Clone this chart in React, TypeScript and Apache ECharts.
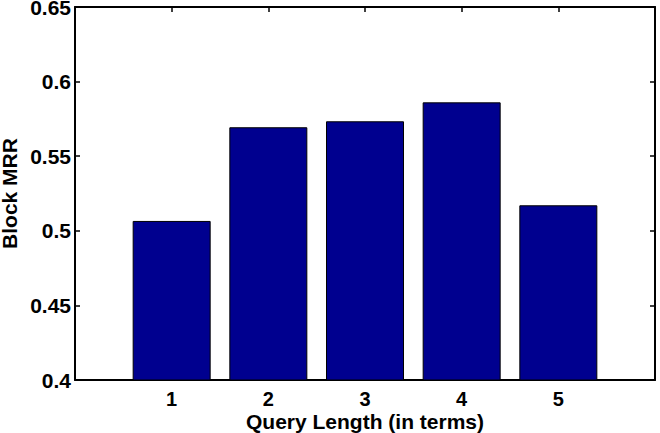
import { useEffect, useRef } from 'react';
import * as echarts from 'echarts';

const queryLengths = [1, 2, 3, 4, 5];
const blockMrr = [0.5066, 0.5694, 0.5734, 0.5861, 0.5171];
const yTicks = { min: 0.4, max: 0.65, interval: 0.05 };
const xRange = { min: 0, max: 6, interval: 1 };

const FONT = '"Liberation Sans", Arial, Helvetica, sans-serif';

function App() {
  const chartRef = useRef<HTMLDivElement>(null);

  useEffect(() => {
    document.body.style.margin = '0';
    if (!chartRef.current) return;
    const chart = echarts.init(chartRef.current, null, { renderer: 'svg' });

    const axisLine = { show: true, onZero: false, lineStyle: { color: '#000', width: 2 } };
    const axisTick = { show: true, inside: true, length: 5, lineStyle: { color: '#000', width: 1.5 } };

    chart.setOption({
      animation: false,
      backgroundColor: '#fff',
      grid: { left: 75, right: 5, top: 7, bottom: 53, containLabel: false, outerBoundsMode: 'none' },
      xAxis: [
        {
          type: 'value',
          min: xRange.min,
          max: xRange.max,
          interval: xRange.interval,
          axisLine,
          axisTick,
          splitLine: { show: false },
          axisLabel: {
            color: '#000',
            fontFamily: FONT,
            fontWeight: 'bold',
            fontSize: 20,
            margin: 9,
            formatter: (v: number) => (queryLengths.includes(v) ? String(v) : ''),
          },
          name: 'Query Length (in terms)',
          nameLocation: 'middle',
          nameGap: 30,
          nameMoveOverlap: false,
          nameTextStyle: { color: '#000', fontFamily: FONT, fontWeight: 'bold', fontSize: 21, lineHeight: 22 },
        },
        {
          type: 'value',
          position: 'top',
          min: xRange.min,
          max: xRange.max,
          interval: xRange.interval,
          axisLine,
          axisTick,
          splitLine: { show: false },
          axisLabel: { show: false },
        },
      ],
      yAxis: [
        {
          type: 'value',
          min: yTicks.min,
          max: yTicks.max,
          interval: yTicks.interval,
          axisLine,
          axisTick,
          splitLine: { show: false },
          axisLabel: {
            color: '#000',
            fontFamily: FONT,
            fontWeight: 'bold',
            fontSize: 21,
            margin: 4,
          },
          name: 'Block MRR',
          nameLocation: 'middle',
          nameGap: 55,
          nameMoveOverlap: false,
          nameTextStyle: { color: '#000', fontFamily: FONT, fontWeight: 'bold', fontSize: 21, lineHeight: 22 },
        },
        {
          type: 'value',
          position: 'right',
          min: yTicks.min,
          max: yTicks.max,
          interval: yTicks.interval,
          axisLine,
          axisTick,
          splitLine: { show: false },
          axisLabel: { show: false },
        },
      ],
      series: [
        {
          type: 'bar',
          xAxisIndex: 0,
          yAxisIndex: 0,
          barWidth: 78,
          data: queryLengths.map((q, i) => [q, blockMrr[i]]),
          itemStyle: { color: '#00008F', borderColor: '#000', borderWidth: 1 },
        },
      ],
    });

    return () => chart.dispose();
  }, []);

  return <div ref={chartRef} style={{ width: '660px', height: '433px' }} />;
}

export default App;
